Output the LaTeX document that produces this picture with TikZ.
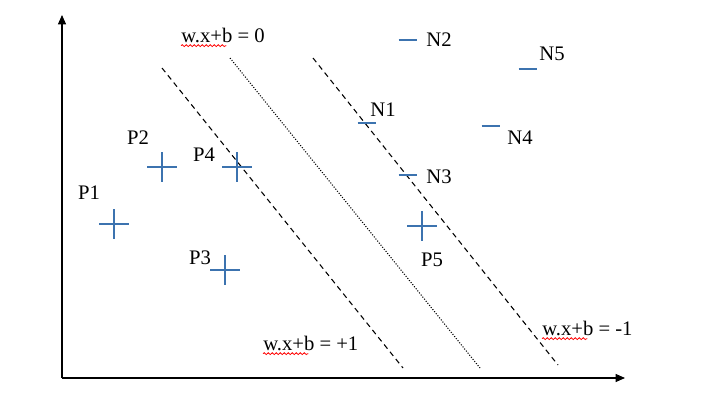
\documentclass[tikz,border=0pt]{standalone}
\usepackage{fontspec}
\setmainfont{Liberation Serif}
\usetikzlibrary{arrows.meta,decorations.pathmorphing}
\definecolor{mk}{RGB}{60,115,175}
\begin{document}
\begin{tikzpicture}[x=0.75pt,y=-0.75pt,
  lbl/.style={font=\fontsize{15.5}{18}\selectfont,inner sep=0pt},
  plus/.style={draw=mk,line width=1.2pt},
  minus/.style={draw=mk,line width=2pt},
  wavy/.style={draw=red,line width=0.6pt,decorate,decoration={snake,amplitude=0.7pt,segment length=3pt}},
  axis/.style={line width=0.8pt,-{Triangle[length=7pt,width=6pt]}}]
\useasboundingbox (0,0) rectangle (708,404);
\coordinate (o) at (62,378);
\coordinate (ytop) at (62,15);
\coordinate (xend) at (625,378);
\draw[axis] (o) -- (ytop);
\draw[axis] (o) -- (xend);
\coordinate (a1) at (162,68); \coordinate (a2) at (403,368);
\coordinate (b1) at (230,58); \coordinate (b2) at (480,368);
\coordinate (c1) at (313,58); \coordinate (c2) at (558,365);
\draw[line width=0.8pt,dash pattern=on 4pt off 3pt] (a1) -- (a2);
\draw[line width=0.8pt,dash pattern=on 0.8pt off 1.2pt] (b1) -- (b2);
\draw[line width=0.8pt,dash pattern=on 4pt off 3pt] (c1) -- (c2);
\node[lbl,anchor=west] (l0) at (181,35) {w.x+b = 0};
\draw[wavy] ([yshift=-8pt]l0.west) -- ++(34pt,0);
\node[lbl,anchor=west] (l1) at (263,343) {w.x+b = +1};
\draw[wavy] ([yshift=-8pt]l1.west) -- ++(34pt,0);
\node[lbl,anchor=west] (l2) at (542,328) {w.x+b = -1};
\draw[wavy] ([yshift=-8pt]l2.west) -- ++(34pt,0);
\foreach \n/\x/\y in {p1/114/224,p2/162/167,p4/237/167,p3/225/270,p5/422/226}{
  \path (\x,\y) coordinate (\n);
  \draw[plus] ([xshift=-11pt]\n) -- ([xshift=11pt]\n);
  \draw[plus] ([yshift=-11pt]\n) -- ([yshift=11pt]\n);
}
\node[lbl] (tp1) at (89,193) {P1};
\node[lbl] (tp2) at (138,138) {P2};
\node[lbl] (tp4) at (204,155) {P4};
\node[lbl] (tp3) at (200,258) {P3};
\node[lbl] (tp5) at (432,260) {P5};
\foreach \n/\x/\y in {n2/408/40,n5/528/69,n1/367/123,n4/491/126,n3/408/175}{
  \path (\x,\y) coordinate (\n);
  \draw[minus] ([xshift=-7pt]\n) -- ([xshift=7pt]\n);
}
\node[lbl] (tn2) at (439,40) {N2};
\node[lbl] (tn5) at (552,54) {N5};
\node[lbl] (tn1) at (383,110) {N1};
\node[lbl] (tn4) at (520,138) {N4};
\node[lbl] (tn3) at (439,177) {N3};
\end{tikzpicture}
\end{document}
